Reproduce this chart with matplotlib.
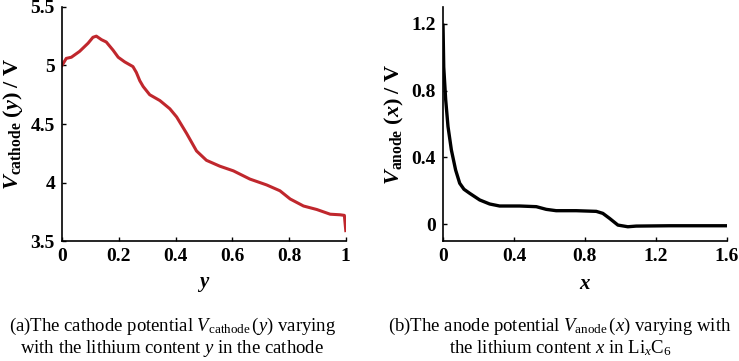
import matplotlib
matplotlib.use("Agg")
import matplotlib.pyplot as plt

plt.rcParams["font.family"] = "Liberation Serif"
plt.rcParams["mathtext.fontset"] = "custom"
plt.rcParams["mathtext.rm"] = "Liberation Serif"
plt.rcParams["mathtext.it"] = "Liberation Serif:italic"
plt.rcParams["mathtext.bf"] = "Liberation Serif:bold"
plt.rcParams["mathtext.bfit"] = "Liberation Serif:italic:bold"

# cathode potential vs lithium content y
cath_y = [0.0, 0.015, 0.033, 0.062, 0.092, 0.109, 0.121, 0.139, 0.156, 0.18,
          0.198, 0.221, 0.25, 0.262, 0.274, 0.286, 0.309, 0.345, 0.38, 0.404,
          0.439, 0.474, 0.509, 0.556, 0.604, 0.662, 0.721, 0.768, 0.804, 0.851,
          0.898, 0.945, 0.98, 0.995, 1.0]
cath_v = [5.0, 5.06, 5.07, 5.12, 5.19, 5.24, 5.25, 5.22, 5.20, 5.13,
          5.07, 5.03, 4.99, 4.94, 4.87, 4.82, 4.75, 4.70, 4.63, 4.56,
          4.42, 4.27, 4.19, 4.14, 4.10, 4.03, 3.98, 3.93, 3.86, 3.80,
          3.77, 3.73, 3.725, 3.72, 3.59]

# anode potential vs lithium content x in LixC6
anode_x = [0.0, 0.004, 0.015, 0.028, 0.047, 0.071, 0.094, 0.118, 0.15, 0.207,
           0.263, 0.319, 0.432, 0.526, 0.582, 0.638, 0.751, 0.864, 0.901, 0.939,
           0.986, 1.042, 1.089, 1.277, 1.6]
anode_v = [1.19, 0.94, 0.745, 0.585, 0.445, 0.325, 0.246, 0.21, 0.186, 0.146,
           0.122, 0.11, 0.11, 0.106, 0.09, 0.082, 0.082, 0.078, 0.066, 0.036,
           -0.004, -0.014, -0.01, -0.008, -0.008]

cath_xticks = [0, 0.2, 0.4, 0.6, 0.8, 1]
cath_xlabels = ["0", "0.2", "0.4", "0.6", "0.8", "1"]
cath_yticks = [3.5, 4, 4.5, 5, 5.5]
cath_ylabels = ["3.5", "4", "4.5", "5", "5.5"]
anode_xticks = [0, 0.4, 0.8, 1.2, 1.6]
anode_xlabels = ["0", "0.4", "0.8", "1.2", "1.6"]
anode_yticks = [0, 0.4, 0.8, 1.2]
anode_ylabels = ["0", "0.4", "0.8", "1.2"]


def style_axes(ax):
    ax.spines["top"].set_visible(False)
    ax.spines["right"].set_visible(False)
    ax.spines["left"].set_linewidth(1.2)
    ax.spines["bottom"].set_linewidth(1.2)
    ax.tick_params(direction="in", length=3, width=1, labelsize=14, pad=5)
    for lbl in ax.get_xticklabels() + ax.get_yticklabels():
        lbl.set_fontweight("bold")


fig = plt.figure(figsize=(7.39, 3.61), dpi=100)
ax1 = fig.add_axes([0.0839, 0.332, 0.384, 0.649])
ax2 = fig.add_axes([0.5995, 0.332, 0.384, 0.649])

# (a) cathode
ax1.plot(cath_y, cath_v, color="#c0272d", lw=2.2)
ax1.set_xlim(0, 1)
ax1.set_ylim(3.5, 5.5)
ax1.set_xticks(cath_xticks, cath_xlabels)
ax1.set_yticks(cath_yticks, cath_ylabels)
ax1.set_xlabel(r"$\mathbfit{y}$", fontsize=15, labelpad=7)
ax1.set_ylabel(r"$\mathbfit{V}_{\mathbf{cathode}}\ \mathbf{(}\mathbfit{y}\mathbf{)\ /\ V}$",
               fontsize=16, labelpad=4)
style_axes(ax1)

# (b) anode
ax2.plot(anode_x, anode_v, color="black", lw=2.4)
ax2.set_xlim(0, 1.6)
ax2.set_ylim(-0.1, 1.3)
ax2.set_xticks(anode_xticks, anode_xlabels)
ax2.set_yticks(anode_yticks, anode_ylabels)
ax2.set_xlabel(r"$\mathbfit{x}$", fontsize=15, labelpad=7)
ax2.set_ylabel(r"$\mathbfit{V}_{\mathbf{anode}}\ \mathbf{(}\mathbfit{x}\mathbf{)\ /\ V}$",
               fontsize=16, labelpad=4)
style_axes(ax2)

# captions
fig.text(0.233, 0.097, r"(a)The cathode potential $V_{\mathrm{cathode}}\,(y)$ varying",
         ha="center", va="center", fontsize=13.5)
fig.text(0.233, 0.036, r"with the lithium content $y$ in the cathode",
         ha="center", va="center", fontsize=13.5)
fig.text(0.758, 0.097, r"(b)The anode potential $V_{\mathrm{anode}}\,(x)$ varying with",
         ha="center", va="center", fontsize=13.5)
fig.text(0.758, 0.036, r"the lithium content $x$ in Li$_x$C$_6$",
         ha="center", va="center", fontsize=13.5)

fig.savefig("out.png", dpi=100)
